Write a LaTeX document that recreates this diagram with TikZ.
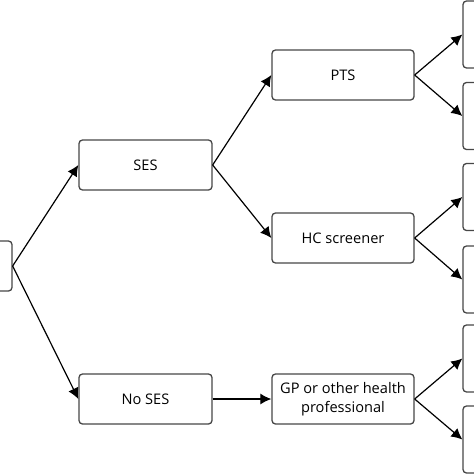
\documentclass[tikz,border=0pt]{standalone}
\usepackage{fontspec}
\setmainfont{Open Sans}
\usetikzlibrary{arrows.meta}
\tikzset{
  box/.style={draw=black!72, line width=1.3pt, rounded corners=3.5pt, fill=white,
    minimum height=50pt, align=center, inner sep=2pt, font=\fontsize{14.6}{18.5}\selectfont},
  wide/.style={box, minimum width=142pt},
  mid/.style={box, minimum width=133pt},
  endbox/.style={box, minimum width=70pt, minimum height=67pt},
  conn/.style={line width=1.2pt, -{Latex[length=11pt,width=11pt]}},
}
\begin{document}
\begin{tikzpicture}[x=1pt,y=-1pt]
\useasboundingbox (0,0) rectangle (474,474);
\clip (0,0) rectangle (474,474);
\node[mid, minimum width=70pt] (root) at (-23,266) {};
\node[mid] (ses) at (145.5,165) {SES};
\node[mid] (noses) at (145.5,399) {No SES};
\node[wide] (pts) at (343,75) {PTS};
\node[wide] (hc) at (343,238) {HC screener};
\node[wide] (gp) at (343,399) {GP or other health\\professional};
\node[endbox] (e1) at (498,34.5) {};
\node[endbox] (e2) at (498,116) {};
\node[endbox] (e3) at (498,197) {};
\node[endbox] (e4) at (498,279.5) {};
\node[endbox] (e5) at (498,358.5) {};
\node[endbox] (e6) at (498,439.5) {};
\draw[conn] (root.east) -- (ses.west);
\draw[conn] (root.east) -- (noses.west);
\draw[conn] (ses.east) -- (pts.west);
\draw[conn] (ses.east) -- (hc.west);
\draw[conn] (noses.east) -- (gp.west);
\draw[conn] (pts.east) -- (e1.west);
\draw[conn] (pts.east) -- (e2.west);
\draw[conn] (hc.east) -- (e3.west);
\draw[conn] (hc.east) -- (e4.west);
\draw[conn] (gp.east) -- (e5.west);
\draw[conn] (gp.east) -- (e6.west);
\end{tikzpicture}
\end{document}
